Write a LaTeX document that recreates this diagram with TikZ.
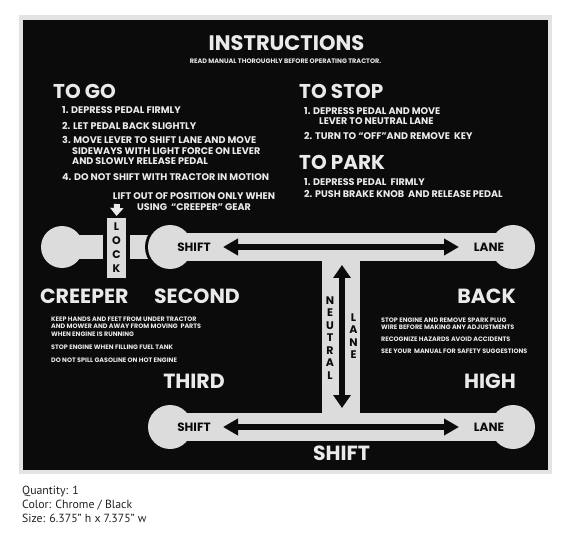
\documentclass[tikz,border=0pt]{standalone}
\usepackage{fontspec}
\usepackage{xcolor}
\usepackage{tikz}
\usetikzlibrary{arrows.meta, positioning}
\setsansfont{PT Sans}
\newfontfamily\platefont{Poppins}
\definecolor{Plate}{HTML}{0B0B0B}
\definecolor{Chrome}{HTML}{DCDCDC}
\definecolor{Rim}{HTML}{E3E3E3}
\definecolor{Etch}{HTML}{EAEAEA}
\definecolor{Caption}{HTML}{222222}

\begin{document}
\begin{tikzpicture}[
  x=1pt, y=-1pt,
  plate/.style={text=Etch, inner sep=0pt},
  head/.style={plate, anchor=west, font=\platefont\bfseries\fontsize{20}{24}\selectfont},
  title/.style={plate, font=\platefont\bfseries\fontsize{21}{24}\selectfont},
  item/.style={plate, anchor=west, align=left, font=\platefont\bfseries\fontsize{9.6}{10.8}\selectfont},
  note/.style={plate, anchor=west, align=left, font=\platefont\bfseries\fontsize{6.4}{7.5}\selectfont},
  gear/.style={plate, font=\platefont\bfseries\fontsize{20.5}{24}\selectfont},
  lane/.style={text=Plate, inner sep=0pt, font=\platefont\bfseries\fontsize{12}{14}\selectfont},
  stack/.style={lane, align=center, font=\platefont\bfseries\fontsize{11}{12.5}\selectfont},
  lockbox/.style={stack, fill=Chrome, draw=Plate, line width=4pt, outer sep=0pt,
    minimum width=23pt, minimum height=64pt, font=\platefont\bfseries\fontsize{11}{14}\selectfont},
  gate/.style={fill=Chrome},
  lanearrow/.style={line width=6pt, draw=Plate, {Triangle[length=15pt,width=16pt]}-{Triangle[length=15pt,width=16pt]}},
  liftarrow/.style={line width=6pt, draw=Etch, -{Triangle[length=8pt,width=13pt]}}
]
\useasboundingbox (0,0) rectangle (570,537);
\fill[Rim] (19,15) rectangle (552,474);
\fill[Plate] (23,20) rectangle (548,470);

% heading and instructions
\node[title] (instr) at (286.5,42.7) {INSTRUCTIONS};
\node[plate, font=\platefont\bfseries\fontsize{6.5}{8}\selectfont] (readman) at (285.5,61) {READ MANUAL THOROUGHLY BEFORE OPERATING TRACTOR.};

\node[head] (togo) at (53,91.7) {TO GO};
\node[item] (go1) at (62,110.5) {1. DEPRESS PEDAL FIRMLY};
\node[item] (go2) at (62,125.5) {2. LET PEDAL BACK SLIGHTLY};
\node[item] (go3) at (62,150.5) {3. MOVE LEVER TO SHIFT LANE AND MOVE\\
  \hspace*{10pt}SIDEWAYS WITH LIGHT FORCE ON LEVER\\
  \hspace*{10pt}AND SLOWLY RELEASE PEDAL};
\node[item] (go4) at (62,177) {4. DO NOT SHIFT WITH TRACTOR IN MOTION};

\node[head] (tostop) at (299,91.7) {TO STOP};
\node[item] (stop1) at (304,116) {1. DEPRESS PEDAL AND MOVE\\
  \hspace*{15pt}LEVER TO NEUTRAL LANE};
\node[item] (stop2) at (304,136) {2. TURN TO “OFF”AND REMOVE\ \ KEY};

\node[head] (topark) at (299,162.3) {TO PARK};
\node[item] (park1) at (304,182.3) {1. DEPRESS PEDAL\ \ FIRMLY};
\node[item] (park2) at (304,194.3) {2. PUSH BRAKE KNOB\ \ AND RELEASE PEDAL};

\node[item, align=center, anchor=center] (liftnote) at (194,202) {LIFT OUT OF POSITION ONLY WHEN\\
  USING\ \ “CREEPER” GEAR};

% shift gate
\fill[gate] (62,235) rectangle (150,259);
\fill[gate] (62,247) circle[radius=21];
\fill[Plate] (170,247) circle[radius=25];
\fill[gate] (170,233) rectangle (513,261);
\fill[gate] (170,413) rectangle (513,441);
\fill[gate] (322,247) rectangle (360,427);
\foreach \y in {247,427} {
  \fill[gate] (170,\y) circle[radius=22];
  \fill[gate] (513,\y) circle[radius=22];
}

\node[lockbox] (lock) at (116.5,248) {L\\O\\C\\K};
\coordinate (liftstart) at (117,204);
\draw[liftarrow] (liftstart) -- (lock.north);

\coordinate (upL) at (223,247);
\coordinate (upR) at (459,247);
\coordinate (loL) at (223,427);
\coordinate (loR) at (459,427);
\coordinate (neuT) at (342,265);
\coordinate (neuB) at (342,408);
\draw[lanearrow] (upL) -- (upR);
\draw[lanearrow] (loL) -- (loR);
\draw[line width=6.5pt, draw=Plate, {Triangle[length=13pt,width=17pt]}-{Triangle[length=13pt,width=17pt]}] (neuT) -- (neuB);

\node[lane] (upshift) at (194,247) {SHIFT};
\node[lane] (uplane) at (489,247) {LANE};
\node[lane] (loshift) at (194,427) {SHIFT};
\node[lane] (lolane) at (489,427) {LANE};
\node[stack] (neutral) at (330,338) {N\\E\\U\\T\\R\\A\\L};
\node[stack] (neulane) at (353.5,336) {L\\A\\N\\E};

% gear names
\node[gear] (creeper) at (84.3,296) {CREEPER};
\node[gear] (second) at (197,296) {SECOND};
\node[gear, anchor=east] (back) at (516,296) {BACK};
\node[gear] (third) at (194,381) {THIRD};
\node[gear, anchor=east] (high) at (516,381) {HIGH};
\node[gear] (shift) at (341.5,453) {SHIFT};

% safety notes
\node[note] (keep) at (51,326.7) {KEEP HANDS AND FEET FROM UNDER TRACTOR\\
  AND MOWER AND AWAY FROM MOVING\ \ PARTS\\
  WHEN ENGINE IS RUNNING};
\node[note] (fuel) at (51,347.3) {STOP ENGINE WHEN FILLING FUEL TANK};
\node[note] (spill) at (51,360) {DO NOT SPILL GASOLINE ON HOT ENGINE};
\node[note] (plug) at (381,323.8) {STOP ENGINE AND REMOVE SPARK PLUG\\
  WIRE BEFORE MAKING ANY ADJUSTMENTS};
\node[note] (hazard) at (381,339) {RECOGNIZE HAZARDS AVOID ACCIDENTS};
\node[note] (manual) at (381,351.7) {SEE YOUR\ \ MANUAL FOR SAFETY SUGGESTIONS};

% caption
\node[anchor=west, align=left, inner sep=0pt, text=Caption, font=\sffamily\fontsize{11.8}{13.9}\selectfont] (caption) at (22,504) {Quantity: 1\\
  Color: Chrome / Black\\
  Size: 6.375” h x 7.375” w};
\end{tikzpicture}
\end{document}
